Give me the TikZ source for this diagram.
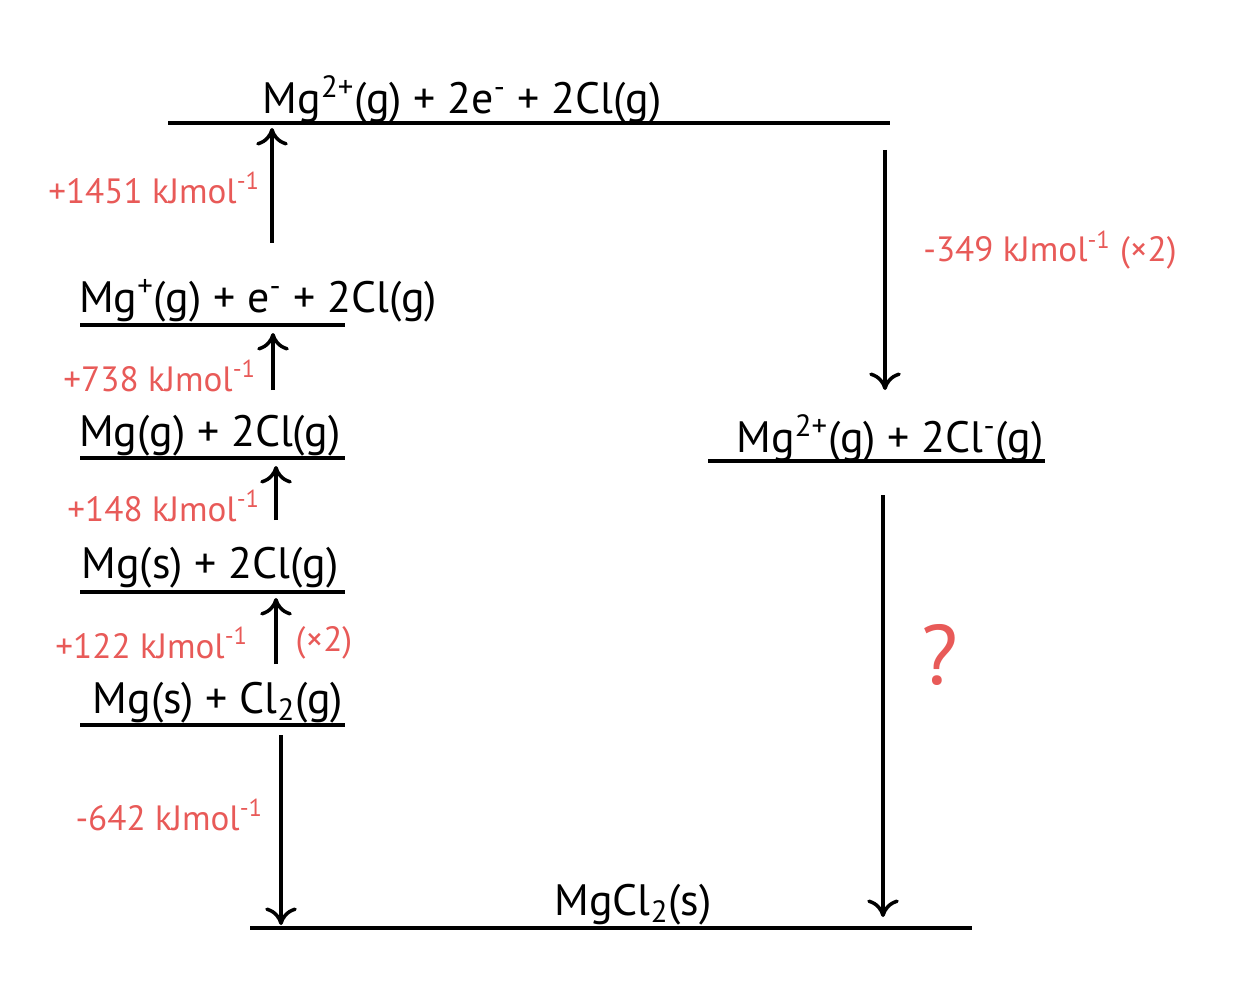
\documentclass[tikz,border=0pt]{standalone}
\usepackage{fontspec}
\setmainfont{PT Sans}
\usepackage{tikz}
\usetikzlibrary{arrows.meta}
\definecolor{enred}{RGB}{232,90,88}
\newcommand{\up}[1]{\textsuperscript{#1}}
\newcommand{\dn}[1]{\textsubscript{#1}}
\tikzset{
  level/.style={line width=2pt},
  change/.style={line width=2pt,-{To[length=10pt,width=18pt]}},
  species/.style={font=\fontsize{25}{28}\selectfont,inner sep=1pt},
  energy/.style={text=enred,font=\fontsize{20}{24}\selectfont,inner sep=1pt}
}
\begin{document}
\begin{tikzpicture}[x=0.02cm,y=-0.02cm]
\useasboundingbox (0,0) rectangle (1254,1000);
% energy levels
\draw[level] (168,123) -- (890,123);
\draw[level] (80,325) -- (345,325);
\draw[level] (80,458) -- (345,458);
\draw[level] (80,592) -- (345,592);
\draw[level] (80,725) -- (345,725);
\draw[level] (708,461) -- (1045,461);
\draw[level] (250,928) -- (972,928);
% species
\node[species] (top) at (462,99) {Mg\up{2+}(g) + 2e\up{-} + 2Cl(g)};
\node[species] (mgp) at (258,301) {Mg\up{+}(g) + e\up{-} + 2Cl(g)};
\node[species] (mgg) at (210,436) {Mg(g) + 2Cl(g)};
\node[species] (mgs) at (210,568) {Mg(s) + 2Cl(g)};
\node[species] (mgc) at (218,703) {Mg(s) + Cl\dn{2}(g)};
\node[species] (ion) at (890,438) {Mg\up{2+}(g) + 2Cl\up{-}(g)};
\node[species] (lat) at (633,905) {MgCl\dn{2}(s)};
% arrow ends
\coordinate (a1) at (272,243); \coordinate (b1) at (272,128);
\coordinate (a2) at (273,390); \coordinate (b2) at (273,333);
\coordinate (a3) at (276,520); \coordinate (b3) at (276,466);
\coordinate (a4) at (276,664); \coordinate (b4) at (276,598);
\coordinate (a5) at (281,735); \coordinate (b5) at (281,925);
\coordinate (a6) at (885,150); \coordinate (b6) at (885,390);
\coordinate (a7) at (883,495); \coordinate (b7) at (883,917);
\draw[change] (a1) -- (b1);
\draw[change] (a2) -- (b2);
\draw[change] (a3) -- (b3);
\draw[change] (a4) -- (b4);
\draw[change] (a5) -- (b5);
\draw[change] (a6) -- (b6);
\draw[change] (a7) -- (b7);
% enthalpies
\node[energy,anchor=east] (h1) at (262,188) {+1451 kJmol\up{-1}};
\node[energy,anchor=east] (h2) at (258,376) {+738 kJmol\up{-1}};
\node[energy,anchor=east] (h3) at (262,506) {+148 kJmol\up{-1}};
\node[energy,anchor=east] (h4) at (250,643) {+122 kJmol\up{-1}};
\node[energy] (h4x) at (324,643) {(×2)};
\node[energy,anchor=east] (h5) at (265,815) {-642 kJmol\up{-1}};
\node[energy] (h6) at (1050,250) {-349 kJmol\up{-1} (×2)};
\node[energy,font=\fontsize{48}{52}\selectfont] (q) at (940,655) {?};
\end{tikzpicture}
\end{document}
